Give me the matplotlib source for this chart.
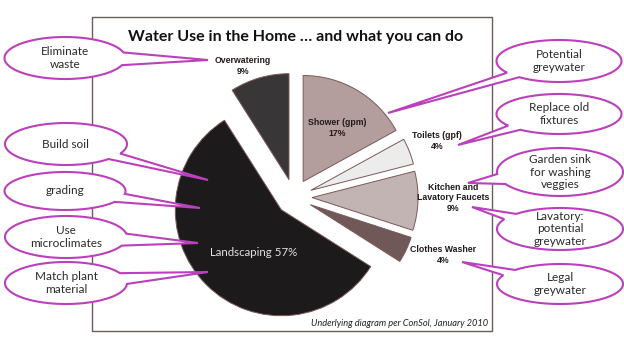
import numpy as np
import matplotlib.pyplot as plt
from matplotlib.patches import Polygon, Rectangle

W, H = 624, 342

# pie data (clockwise from 12 o'clock)
categories = ['Shower (gpm)', 'Toilets (gpf)', 'Kitchen and\nLavatory Faucets',
              'Clothes Washer', 'Landscaping', 'Overwatering']
shares = [17, 4, 9, 4, 57, 9]
slice_colors = ['#b39d9d', '#ececec', '#c2b4b3', '#705858', '#1c1a1b', '#393637']

# callout bubbles
bubble_texts = ['Eliminate\nwaste', 'Build soil', 'grading', 'Use\nmicroclimates',
                'Match plant\nmaterial', 'Potential\ngreywater', 'Replace old\nfixtures',
                'Garden sink\nfor washing\nveggies', 'Lavatory:\npotential\ngreywater',
                'Legal\ngreywater']
# cx, cy, width, height, tip x, tip y  (pixels, y from top)
bubble_geom = [(65, 58, 121, 42, 208, 60),
               (66, 144, 122, 42, 208, 180),
               (65, 191, 121, 38, 200, 208),
               (66, 237, 122, 42, 198, 243),
               (66, 283, 122, 42, 208, 272),
               (559, 61, 125, 42, 388, 113),
               (559, 114, 125, 40, 458, 145),
               (560, 172, 126, 48, 468, 183),
               (560, 229, 126, 42, 472, 207),
               (560, 284, 126, 40, 462, 262)]

fig = plt.figure(figsize=(6.24, 3.42), dpi=100)
ax = fig.add_axes([0, 0, 1, 1])

# frame around the diagram
ax.add_patch(Rectangle((92, H - 331), 400, 314, fill=False, edgecolor='#6b5c5c',
                       linewidth=1.0, zorder=1))

# the pie
R = 106
cx, cy = 294, H - 197
ax.pie(shares, colors=slice_colors, explode=[0.17 * R] * len(shares), startangle=90,
       counterclock=False, center=(cx, cy), radius=R, frame=True,
       wedgeprops=dict(edgecolor='#7b5858', linewidth=0.7))

lab_kw = dict(fontsize=6.3, fontweight='bold', family='Liberation Sans', color='#221a1a',
              ha='center', va='center', linespacing=1.25, zorder=3)
ax.text(243, H - 66, 'Overwatering\n9%', **lab_kw)
ax.text(337, H - 128, 'Shower (gpm)\n17%', **lab_kw)
ax.text(437, H - 141, 'Toilets (gpf)\n4%', **lab_kw)
ax.text(453, H - 198, 'Kitchen and\nLavatory Faucets\n9%', **lab_kw)
ax.text(443, H - 255, 'Clothes Washer\n4%', **lab_kw)
ax.text(254, H - 253, 'Landscaping 57%', fontsize=8.3, family='Lato', color='#e2e2e2',
        ha='center', va='center', zorder=3)

ax.text(296, H - 37, 'Water Use in the Home \u2026 and what you can do', fontsize=11.5,
        fontweight='bold', family='Lato', color='#111111', ha='center', va='center')
ax.text(488, H - 323, 'Underlying diagram per ConSol, January 2010', fontsize=6.7,
        style='italic', family='Lato', color='#222222', ha='right', va='center')

# speech bubbles with tails
purple = '#bb40bb'
for txt, (bx, by, bw, bh, tx, ty) in zip(bubble_texts, bubble_geom):
    a, b = bw / 2, bh / 2
    by, ty = H - by, H - ty
    t0 = np.arctan2((ty - by) / b, (tx - bx) / a)
    dt = 6.5 / np.hypot(a * np.sin(t0), b * np.cos(t0))
    ts = np.linspace(t0 + dt, t0 + 2 * np.pi - dt, 300)
    pts = np.column_stack([bx + a * np.cos(ts), by + b * np.sin(ts)])
    pts = np.vstack([pts, [tx, ty]])
    ax.add_patch(Polygon(pts, closed=True, facecolor='white', edgecolor=purple,
                         linewidth=1.5, zorder=5))
    ax.text(bx, by, txt, fontsize=8.5, family='Lato', color='#2a2a2a', ha='center',
            va='center', linespacing=1.15, zorder=6)

ax.set_xlim(0, W)
ax.set_ylim(0, H)
ax.set_aspect('equal')
ax.axis('off')
fig.savefig('out.png', dpi=100, facecolor='white')
